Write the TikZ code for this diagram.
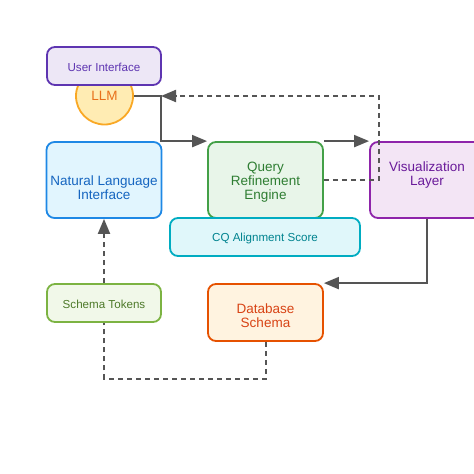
\documentclass[tikz,border=0pt]{standalone}
\usepackage{fontspec}
\setmainfont{Liberation Sans}
\usepackage{xcolor}
\usepackage{tikz}
\usetikzlibrary{arrows.meta}
\definecolor{linegrey}{HTML}{555555}
\definecolor{uifill}{HTML}{EDE7F6}
\definecolor{uidraw}{HTML}{5E35B1}
\definecolor{llmfill}{HTML}{FFECB3}
\definecolor{llmdraw}{HTML}{F9A825}
\definecolor{llmtext}{HTML}{E8701A}
\definecolor{nlifill}{HTML}{E1F5FE}
\definecolor{nlidraw}{HTML}{1E88E5}
\definecolor{nlitext}{HTML}{1565C0}
\definecolor{qrefill}{HTML}{E8F5E9}
\definecolor{qredraw}{HTML}{43A047}
\definecolor{qretext}{HTML}{2E7D32}
\definecolor{visfill}{HTML}{F3E5F5}
\definecolor{visdraw}{HTML}{8E24AA}
\definecolor{vistext}{HTML}{6A1B9A}
\definecolor{cqfill}{HTML}{E0F7FA}
\definecolor{cqdraw}{HTML}{00ACC1}
\definecolor{cqtext}{HTML}{00838F}
\definecolor{stfill}{HTML}{F1F8E9}
\definecolor{stdraw}{HTML}{7CB342}
\definecolor{sttext}{HTML}{4E7A2A}
\definecolor{dbfill}{HTML}{FFF3E0}
\definecolor{dbdraw}{HTML}{E65100}
\definecolor{dbtext}{HTML}{D84315}

\begin{document}
\begin{tikzpicture}[x=1pt, y=-1pt,
  box/.style={draw, rounded corners=8pt, line width=1.8pt, align=center, inner sep=2pt},
  smallbox/.style={box, minimum width=114pt, minimum height=38pt},
  smalltext/.style={align=center, font=\fontsize{11.6}{13}\selectfont, yshift=-1.5pt},
  bigbox/.style={box, minimum width=115pt, minimum height=76pt},
  bigtext/.style={align=center, font=\fontsize{13.5}{14}\selectfont},
  arrow/.style={-{Triangle[length=15pt, width=12pt]}, line width=2pt, draw=linegrey},
  link/.style={line width=2pt, draw=linegrey},
  gap/.style={dash pattern=on 5pt off 4pt}
]
\useasboundingbox (0,0) rectangle (474,474);
\clip (0,0) rectangle (474,474);

% LLM sits behind the user interface box
\node[circle, minimum size=57pt, inner sep=0pt, line width=1.8pt,
      draw=llmdraw, fill=llmfill, text=llmtext,
      font=\fontsize{13.5}{14}\selectfont] (llm) at (104.5,96) {LLM};
\node[smallbox, draw=uidraw, fill=uifill,
      label={[smalltext, text=uidraw]center:{User Interface}}] (ui) at (104,66) {};

% Main row
\node[bigbox, draw=nlidraw, fill=nlifill,
      label={[bigtext, text=nlitext, yshift=-8pt]center:{Natural Language\\Interface}}]
  (nli) at (104,180) {};
\node[bigbox, draw=qredraw, fill=qrefill,
      label={[bigtext, text=qretext, yshift=-2pt]center:{Query\\Refinement\\Engine}}]
  (qre) at (265.5,180) {};
\node[bigbox, minimum width=114pt, draw=visdraw, fill=visfill,
      label={[bigtext, text=vistext, yshift=5pt]center:{Visualization\\Layer}}]
  (vis) at (427,180) {};

% Score, tokens, schema
\node[smallbox, minimum width=190pt, draw=cqdraw, fill=cqfill,
      label={[smalltext, text=cqtext]center:{CQ Alignment Score}}] (cq) at (265,237) {};
\node[smallbox, draw=stdraw, fill=stfill,
      label={[smalltext, text=sttext]center:{Schema Tokens}}] (st) at (104,303) {};
\node[bigbox, minimum height=57pt, draw=dbdraw, fill=dbfill,
      label={[bigtext, text=dbtext, yshift=-3pt]center:{Database\\Schema}}]
  (db) at (265.5,312.5) {};

% Connectors
\coordinate (split) at (161,96);
\coordinate (back) at (379,96);
\draw[arrow] (llm.east) -- (split) |- (qre.north west);
\draw[arrow] (qre.north east) -- (vis.north west);
\draw[arrow, gap] (qre.east) -| (back) -- (split);
\draw[arrow] (vis.south) |- (db.north east);
\draw[arrow, gap] (st.north) -- (nli.south);
\draw[link, gap] (db.south) -- ++(0,37) -| (st.south);

\end{tikzpicture}
\end{document}
